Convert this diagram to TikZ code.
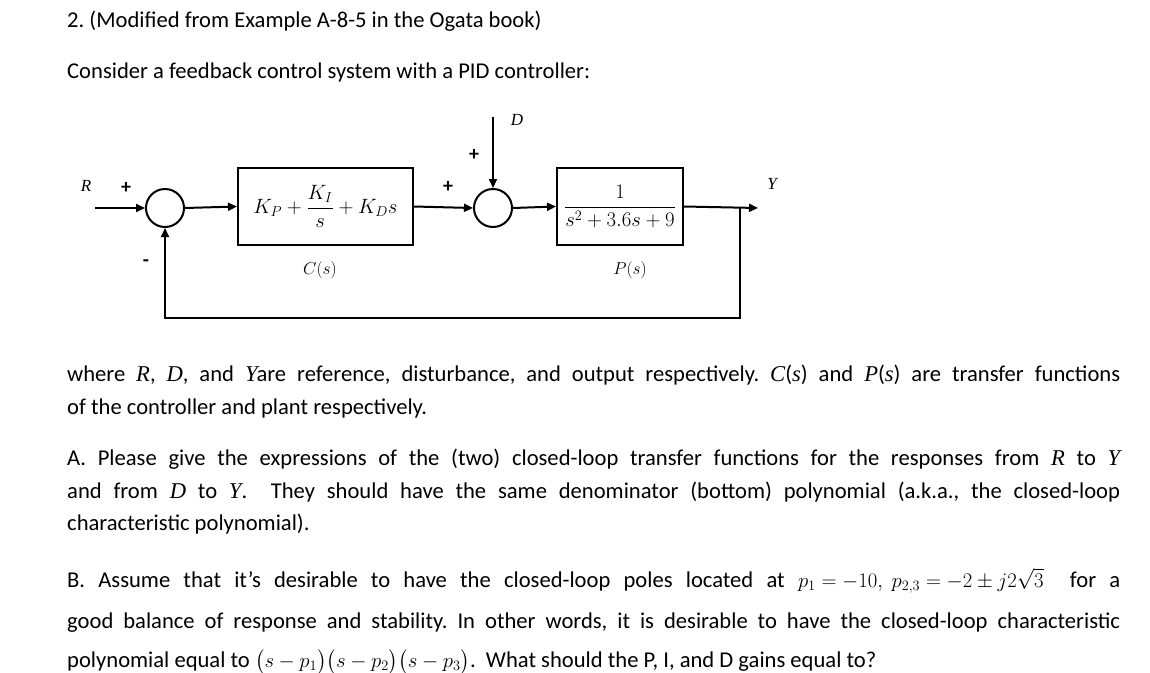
\documentclass[tikz,border=0pt]{standalone}
\usepackage{amsmath}
\usepackage{fontspec}
\setmainfont{Carlito}
\newfontfamily\tms{Liberation Serif}
\usetikzlibrary{arrows.meta}
\frenchspacing
\tikzset{
  txt/.style={anchor=base west,inner sep=0pt,font=\fontsize{22.6}{26}\selectfont},
  blk/.style={draw,line width=2pt,inner sep=0pt},
  sumc/.style={draw,line width=2pt,ellipse,minimum width=38pt,minimum height=38pt,inner sep=0pt},
  sig/.style={line width=2pt,-{Triangle[length=9pt,width=8pt]}},
  dlab/.style={inner sep=0pt,font=\tms\itshape\fontsize{17}{20}\selectfont}
}
\usetikzlibrary{shapes.geometric}
\newcommand{\jl}[1]{\makebox[1053pt][s]{#1}}
\begin{document}
\begin{tikzpicture}[x=1pt,y=-1pt]
\useasboundingbox (0,0) rectangle (1150,672);
% text
\node[txt] (t1) at (67,27) {2. (Modified from Example A-8-5 in the Ogata book)};
\node[txt] (t2) at (67,78) {Consider a feedback control system with a PID controller:};
\node[txt] (t3) at (67,381) {\jl{where {\tms\itshape R}, {\tms\itshape D}, and {\tms\itshape Y\kern-1pt}are reference, disturbance, and output respectively. {\tms\itshape C}({\tms\itshape s}) and {\tms\itshape P}({\tms\itshape s}) are transfer functions}};
\node[txt] (t4) at (67,414) {of the controller and plant respectively.};
\node[txt] (t5) at (67,465) {\jl{A. Please give the expressions of the (two) closed-loop transfer functions for the responses from {\tms\itshape R} to {\tms\itshape Y}}};
\node[txt] (t6) at (67,498) {\jl{and from {\tms\itshape D} to {\tms\itshape Y}.\ \ They should have the same denominator (bottom) polynomial (a.k.a., the closed-loop}};
\node[txt] (t7) at (67,530) {characteristic polynomial).};
\node[txt] (t8) at (67,587) {\jl{B. Assume that it’s desirable to have the closed-loop poles located at \mbox{$p_1=-10,\ p_{2,3}=-2\pm j2\sqrt{3}$}\ \ for a}};
\node[txt] (t9) at (67,628) {\jl{good balance of response and stability. In other words, it is desirable to have the closed-loop characteristic}};
\node[txt] (t10) at (67,667) {polynomial equal to $\bigl(s-p_1\bigr)\bigl(s-p_2\bigr)\bigl(s-p_3\bigr)$.\ \ What should the P, I, and D gains equal to?};
% diagram
\node[sumc] (s1) at (165,208) {};
\node[sumc] (s2) at (493,208) {};
\node[blk,minimum width=175pt,minimum height=77pt] (C) at (325.5,206.5) {\fontsize{22}{26}\selectfont $K_P+\dfrac{K_I}{s}+K_Ds$};
\node[blk,minimum width=126pt,minimum height=77pt] (P) at (620,206.5) {\fontsize{20}{24}\selectfont $\dfrac{1}{s^2+3.6s+9}$};
\coordinate (rin) at (95,208);
\coordinate (din) at (493,117);
\coordinate (yout) at (758,208);
\coordinate (br) at (740,208);
\coordinate (b1) at (740,318);
\coordinate (b2) at (165,318);
\draw[sig] (rin) -- (s1.west);
\draw[sig] (s1.east) -- (C.west);
\draw[sig] (C.east) -- (s2.west);
\draw[sig] (din) -- (s2.north);
\draw[sig] (s2.east) -- (P.west);
\draw[sig] (P.east) -- (yout);
\draw[sig] (br) -- (b1) -- (b2) -- (s1.south);
\node[dlab] (lR) at (86,186) {R};
\node[dlab] (lY) at (772,184) {Y};
\node[dlab] (lD) at (517,120) {D};
\node[inner sep=0pt,font=\fontsize{20}{22}\selectfont\bfseries] (p1) at (126,188) {+};
\node[inner sep=0pt,font=\fontsize{20}{22}\selectfont\bfseries] (m1) at (146,263) {-};
\node[inner sep=0pt,font=\fontsize{20}{22}\selectfont\bfseries] (p2) at (448,187) {+};
\node[inner sep=0pt,font=\fontsize{20}{22}\selectfont\bfseries] (p3) at (474,155) {+};
\node[inner sep=0pt,font=\fontsize{18}{22}\selectfont] (lC) at (320,270) {$C(s)$};
\node[inner sep=0pt,font=\fontsize{18}{22}\selectfont] (lP) at (630,270) {$P(s)$};
\end{tikzpicture}
\end{document}
